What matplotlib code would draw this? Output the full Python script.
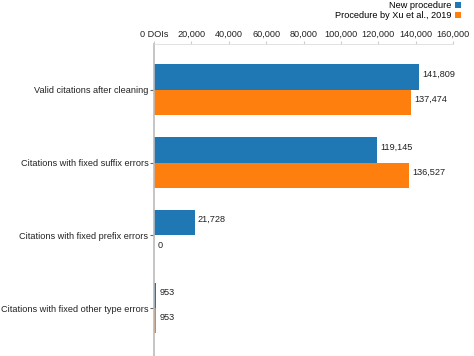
import numpy as np
import matplotlib
matplotlib.use('Agg')
import matplotlib.pyplot as plt
from matplotlib.ticker import FuncFormatter

categories = ['Valid citations after cleaning', 'Citations with fixed suffix errors',
              'Citations with fixed prefix errors', 'Citations with fixed other type errors']
new_procedure = [141809, 119145, 21728, 953]
xu_procedure = [137474, 136527, 0, 953]
series_names = ['New procedure', 'Procedure by Xu et al., 2019']

plt.rcParams['font.family'] = ['Liberation Sans', 'DejaVu Sans']
plt.rcParams['font.size'] = 6.6

fig = plt.figure(figsize=(4.74, 3.56), dpi=100)
ax = fig.add_axes([154 / 474, 0, (453 - 154) / 474, 1 - 44 / 356])

y = np.arange(len(categories))
h = 0.35
b1 = ax.barh(y - h / 2, new_procedure, height=h, color='#1f77b4', label=series_names[0])
b2 = ax.barh(y + h / 2, xu_procedure, height=h, color='#ff7f0e', label=series_names[1])

for bars, vals in ((b1, new_procedure), (b2, xu_procedure)):
    for rect, v in zip(bars, vals):
        ax.text(v + 1800, rect.get_y() + rect.get_height() / 2 - 0.04, f'{v:,}',
                va='center', ha='left', fontsize=6.6, color='#222222')

ax.set_xlim(0, 160000)
ax.set_ylim(3.66, -0.63)
ax.set_xticks(np.arange(0, 160001, 20000))
ax.xaxis.set_major_formatter(FuncFormatter(lambda v, p: '0 DOIs' if v == 0 else f'{int(v):,}'))
ax.xaxis.tick_top()
ax.set_yticks(y)
ax.set_yticklabels(categories)

for s in ['right', 'bottom']:
    ax.spines[s].set_visible(False)
ax.spines['top'].set_color('#dddddd')
ax.spines['top'].set_linewidth(0.6)
ax.spines['left'].set_color('#bbbbbb')
ax.spines['left'].set_linewidth(1.2)
ax.tick_params(axis='x', length=2, color='#cccccc', pad=1.5, labelcolor='#222222')
ax.tick_params(axis='y', length=3, color='#666666', pad=1, labelcolor='#222222')

fig.legend(handles=[b1, b2], loc='upper right', bbox_to_anchor=(0.99, 1.02),
           frameon=False, markerfirst=False, handlelength=0.7, handleheight=0.7,
           handletextpad=0.4, labelspacing=0.1, fontsize=6.6)

fig.savefig('out.png', dpi=100)
